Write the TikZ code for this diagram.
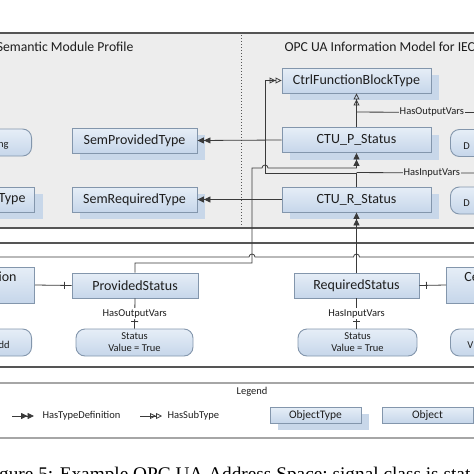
\documentclass[tikz,border=0pt]{standalone}
\usepackage{fontspec}
\setmainfont{Carlito}
\newfontfamily\capfont{Liberation Serif}
\usepackage{xcolor}
\usetikzlibrary{arrows.meta}
\usetikzlibrary{shadows}
\usetikzlibrary{decorations.markings}
\definecolor{secgray}{HTML}{EDEDED}
\definecolor{framegray}{HTML}{555555}
\definecolor{linegray}{HTML}{3A3A3A}
\definecolor{nodetop}{HTML}{E6EEF7}
\definecolor{nodebot}{HTML}{C6D6EA}
\definecolor{nodeedge}{HTML}{8396AC}
\definecolor{shadowblue}{HTML}{C8D7E9}
\definecolor{txt}{HTML}{1E1E1E}
\tikzset{obj/.style={draw=nodeedge,line width=0.9pt,top color=nodetop,bottom color=nodebot,
   text=txt,inner sep=0pt,minimum height=25pt,font=\fontsize{14}{16}\selectfont},
 otype/.style={obj,general shadow={fill=shadowblue,shadow xshift=8pt,shadow yshift=-7pt}},
 vnode/.style={obj,rounded corners=9pt,minimum height=27pt,align=center,
   font=\fontsize{10.5}{12}\selectfont},
 lbl/.style={fill=secgray,inner sep=1pt,text=txt,font=\fontsize{10.5}{12}\selectfont},
 conn/.style={draw=linegray,line width=0.8pt},
 hastd/.style={conn,-{Triangle[length=6.5pt,width=6pt]Triangle[length=6.5pt,width=6pt]}},
 hassub/.style={conn,-{Triangle[open,length=6pt,width=6pt]Triangle[open,length=6pt,width=6pt]}},
 hascomp/.style={conn,postaction={decorate},decoration={markings,
   mark=at position -7pt with {\draw[linegray,line width=0.8pt] (0pt,-3.5pt) -- (0pt,3.5pt);}}},
 }
\begin{document}
\begin{tikzpicture}[x=1pt,y=-1pt]
        \useasboundingbox (0,0) rectangle (474,474);
        \clip (0,0) rectangle (474,474);
        \draw [framegray, line width=1.5pt, fill=secgray] (-5,33) rectangle (480,228);
        \draw [framegray, dotted, line width=1pt] (241,35) -- (241,226);
        \draw [framegray, line width=1.5pt] (-5,243) rectangle (480,367);
        \draw [gray!70, line width=1.2pt] (-5,383) rectangle (480,438);
        \node [anchor=east, text=txt, font=\fontsize{13.7}{16}\selectfont] (semT) at (137,47) {Semantic Module Profile};
        \node [anchor=west, text=txt, font=\fontsize{13.7}{16}\selectfont] (opcT) at (281,47) {OPC UA Information Model for IEC};
        \node [otype, minimum width=149pt] (ctrl) at (356.5,80.5) {CtrlFunctionBlockType};
        \node [otype, minimum width=149pt] (ctuP) at (356.5,140) {CTU\_P\_Status};
        \node [otype, minimum width=149pt] (ctuR) at (356.5,199.5) {CTU\_R\_Status};
        \node [otype, minimum width=125pt] (semP) at (134.5,140.5) {SemProvidedType};
        \node [otype, minimum width=125pt] (semR) at (134.5,199.5) {SemRequiredType};
        \node [otype, anchor=east, inner xsep=9pt] (semX) at (35,199.5) {Type};
        \node [vnode, anchor=east, text width=40pt, inner xsep=23pt, align=right] (ngV) at (32,142.5) {\mbox{}\\ng};
        \node [vnode, anchor=west, text width=40pt, inner xsep=13pt, align=left] (dP) at (450,143) {\mbox{}\\D};
        \node [vnode, anchor=west, text width=40pt, inner xsep=13pt, align=left] (dR) at (450,200.5) {\mbox{}\\D};
        \node [obj, anchor=east, text width=40pt, inner xsep=18pt, minimum height=36pt, align=right] (ionB) at (35,285) {ion\\\mbox{}};
        \node [obj, minimum width=126pt] (provS) at (135,285.5) {ProvidedStatus};
        \node [obj, minimum width=125pt] (reqS) at (356.5,285.5) {RequiredStatus};
        \node [obj, anchor=west, text width=40pt, inner xsep=18pt, minimum height=36pt, align=left] (ceB) at (446,285) {Ce\\\mbox{}};
        \node [vnode, minimum width=117pt] (provSt) at (134.5,342.5) {Status\\Value = True};
        \node [vnode, minimum width=119pt] (reqSt) at (357.5,342.5) {Status\\Value = True};
        \node [vnode, anchor=east, text width=40pt, inner xsep=22pt, align=right] (ddV) at (32,342.5) {\mbox{}\\dd};
        \node [vnode, anchor=west, text width=40pt, inner xsep=17pt, align=left] (vV) at (450,342.5) {\mbox{}\\V};
        \draw [hastd] (ctuP.west) -- (semP.east);
        \draw [hastd] (ctuR.west) -- (semR.east);
        \draw [hassub] (ctuP.north) -- (ctrl.south);
        \draw [conn] (ctuP.north) ++(0,-15) -- node [lbl, pos=0.61] {HasOutputVars} (480,112.5);
        \draw [hassub] (ctuR.north) |- (265,173) |- (ctrl.west);
        \draw [conn] (ctuR.north) ++(0,-14) -- node [lbl, pos=0.61] {HasInputVars} (480,173);
        \draw [hastd] (provS.north) |- (252,263) |- (262,168) arc [start angle=180, end angle=360, radius=3] -| (ctuP.south);
        \draw [hastd] (reqS.north) -- (ctuR.south);
        \draw [conn] (-5,257) -- (249,257) arc [start angle=180, end angle=360, radius=3]
            -- (353.5,257) arc [start angle=180, end angle=360, radius=3] -- (480,257);
        \draw [hascomp] (ionB.east) -- (provS.west);
        \draw [hascomp] (ceB.west) -- (reqS.east);
        \draw [hascomp] (provS.south) -- node [lbl, fill=white] {HasOutputVars} (provSt.north);
        \draw [hascomp] (reqS.south) -- node [lbl, fill=white] {HasInputVars} (reqSt.north -| reqS.south);
        \node [text=txt, font=\fontsize{10.5}{12}\selectfont] (legT) at (252,392) {Legend};
        \coordinate (tdA) at (12,416);
        \coordinate (tdB) at (34,416);
        \draw [hastd] (tdA) -- (tdB);
        \node [anchor=west, text=txt, font=\fontsize{10.5}{12}\selectfont] (tdL) at (39,416) {HasTypeDefinition};
        \coordinate (stA) at (140,416);
        \coordinate (stB) at (162,416);
        \draw [hassub] (stA) -- (stB);
        \node [anchor=west, text=txt, font=\fontsize{10.5}{12}\selectfont] (stL) at (164,416) {HasSubType};
        \node [otype, minimum width=91pt, minimum height=16pt, font=\fontsize{11.5}{13}\selectfont] (legOT) at (315.5,415) {ObjectType};
        \node [obj, minimum width=91pt, minimum height=16pt, font=\fontsize{11.5}{13}\selectfont] (legO) at (427.5,415) {Object};
        \node [anchor=base west, inner sep=0pt, font=\capfont\fontsize{19.3}{22}\selectfont] (capT) at (-1,480) {gure 5: Example OPC UA Address Space; signal class is stat};
    \end{tikzpicture}
\end{document}
